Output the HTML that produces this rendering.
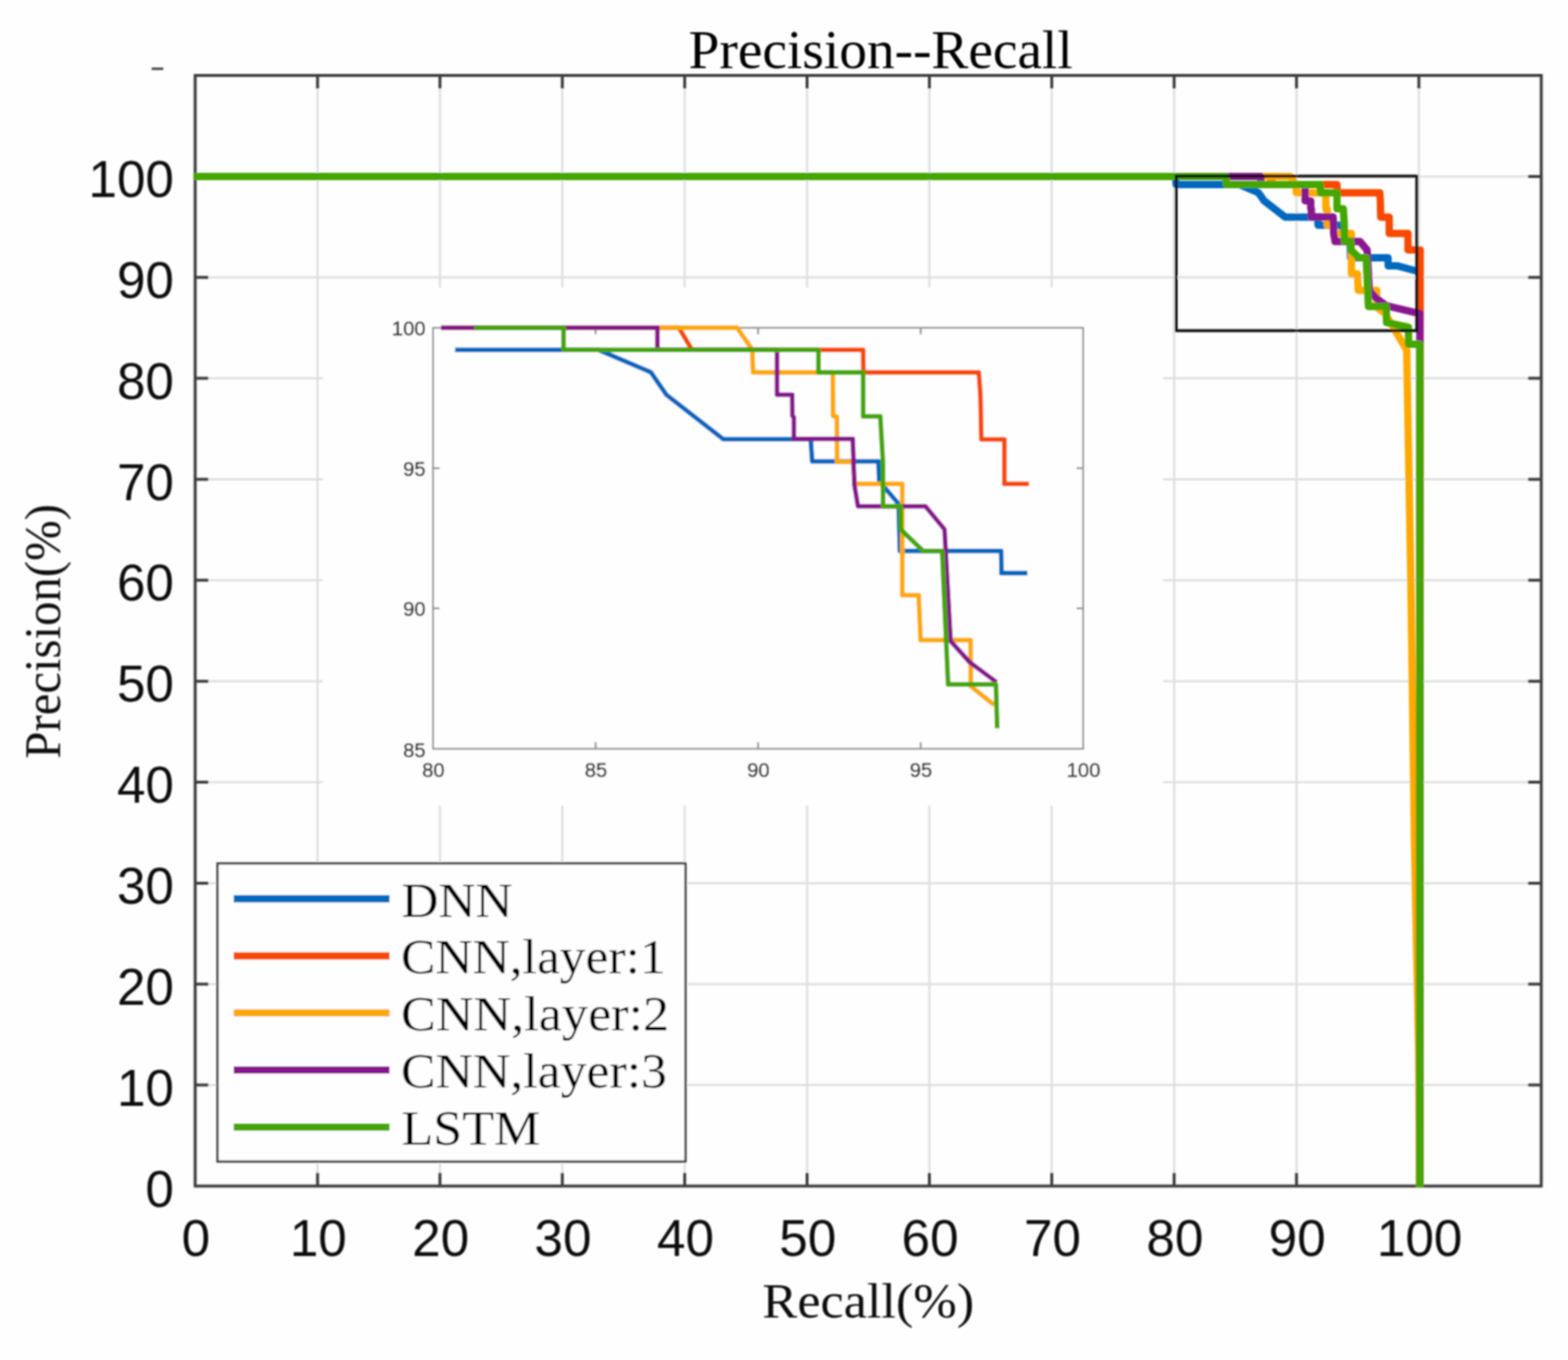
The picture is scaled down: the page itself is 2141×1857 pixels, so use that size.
<!DOCTYPE html><html><head><meta charset="utf-8"><title>Precision--Recall</title>
<style>html,body{margin:0;padding:0;background:#fff;overflow:hidden;}svg{display:block;}.sans{font-family:"Liberation Sans",Arial,Helvetica,sans-serif;}.serif{font-family:"Liberation Serif","Times New Roman",Times,serif;}</style></head><body>
<svg width="2141" height="1857" viewBox="0 0 2141 1857">
<defs><filter id="soft" x="0" y="0" width="2141" height="1857" filterUnits="userSpaceOnUse"><feGaussianBlur stdDeviation="0.9"/></filter></defs>
<rect x="0" y="0" width="2141" height="1857" fill="#fefefe"/>
<g filter="url(#soft)">
<g stroke="#dfdfdf" stroke-width="3"><line x1="433.6" y1="103.0" x2="433.6" y2="1619.5"/><line x1="266.5" y1="1481.6" x2="2104.5" y2="1481.6"/><line x1="600.7" y1="103.0" x2="600.7" y2="1619.5"/><line x1="266.5" y1="1343.8" x2="2104.5" y2="1343.8"/><line x1="767.8" y1="103.0" x2="767.8" y2="1619.5"/><line x1="266.5" y1="1205.9" x2="2104.5" y2="1205.9"/><line x1="934.9" y1="103.0" x2="934.9" y2="1619.5"/><line x1="266.5" y1="1068.0" x2="2104.5" y2="1068.0"/><line x1="1102.0" y1="103.0" x2="1102.0" y2="1619.5"/><line x1="266.5" y1="930.2" x2="2104.5" y2="930.2"/><line x1="1269.0" y1="103.0" x2="1269.0" y2="1619.5"/><line x1="266.5" y1="792.3" x2="2104.5" y2="792.3"/><line x1="1436.1" y1="103.0" x2="1436.1" y2="1619.5"/><line x1="266.5" y1="654.5" x2="2104.5" y2="654.5"/><line x1="1603.2" y1="103.0" x2="1603.2" y2="1619.5"/><line x1="266.5" y1="516.6" x2="2104.5" y2="516.6"/><line x1="1770.3" y1="103.0" x2="1770.3" y2="1619.5"/><line x1="266.5" y1="378.7" x2="2104.5" y2="378.7"/><line x1="1937.4" y1="103.0" x2="1937.4" y2="1619.5"/><line x1="266.5" y1="240.9" x2="2104.5" y2="240.9"/></g>
<path d="M433.6 1619.5V1601.5M433.6 103.0V121.0M266.5 1481.6H284.5M2104.5 1481.6H2086.5M600.7 1619.5V1601.5M600.7 103.0V121.0M266.5 1343.8H284.5M2104.5 1343.8H2086.5M767.8 1619.5V1601.5M767.8 103.0V121.0M266.5 1205.9H284.5M2104.5 1205.9H2086.5M934.9 1619.5V1601.5M934.9 103.0V121.0M266.5 1068.0H284.5M2104.5 1068.0H2086.5M1102.0 1619.5V1601.5M1102.0 103.0V121.0M266.5 930.2H284.5M2104.5 930.2H2086.5M1269.0 1619.5V1601.5M1269.0 103.0V121.0M266.5 792.3H284.5M2104.5 792.3H2086.5M1436.1 1619.5V1601.5M1436.1 103.0V121.0M266.5 654.5H284.5M2104.5 654.5H2086.5M1603.2 1619.5V1601.5M1603.2 103.0V121.0M266.5 516.6H284.5M2104.5 516.6H2086.5M1770.3 1619.5V1601.5M1770.3 103.0V121.0M266.5 378.7H284.5M2104.5 378.7H2086.5M1937.4 1619.5V1601.5M1937.4 103.0V121.0M266.5 240.9H284.5M2104.5 240.9H2086.5" stroke="#3e3e3e" stroke-width="4" fill="none"/>
<rect x="441" y="393" width="1147" height="707" fill="#fefefe"/>
<rect x="266.5" y="103.0" width="1838.0" height="1516.5" fill="none" stroke="#3e3e3e" stroke-width="4"/>
<polyline points="264.5,241.0 1605.0,241.0 1606.0,252.0 1691.9,252.0 1718.3,263.1 1726.2,274.3 1754.9,296.5 1799.1,296.5 1799.8,307.5 1833.3,307.5 1833.7,317.3 1843.5,328.6 1844.1,352.0 1895.3,352.0 1895.5,363.1 1908.6,363.1 1932.0,369.5 1939.0,371.5 1939.0,1621.0" fill="none" stroke="#0068BF" stroke-width="10" stroke-linejoin="round" stroke-linecap="butt"/>
<polyline points="264.5,241.0 1732.5,241.0 1739.2,252.0 1825.6,252.0 1825.7,263.2 1884.0,263.2 1884.8,274.3 1885.3,296.5 1896.9,296.5 1896.9,318.7 1909.4,318.7 1922.5,318.7 1922.5,341.2 1939.2,341.2 1938.8,1621.0" fill="none" stroke="#F74800" stroke-width="10" stroke-linejoin="round" stroke-linecap="butt"/>
<polyline points="264.5,241.0 1761.9,241.0 1769.6,251.9 1770.0,263.2 1810.3,263.2 1810.4,284.9 1812.3,285.3 1812.4,307.6 1820.5,307.6 1821.3,318.7 1845.3,318.7 1845.3,374.1 1853.6,374.1 1854.6,396.4 1879.8,396.4 1880.0,419.4 1891.7,428.7 1906.0,453.0 1920.8,478.0 1926.6,805.0 1931.4,1150.0 1937.3,1443.0 1938.6,1621.0" fill="none" stroke="#FDA900" stroke-width="10" stroke-linejoin="round" stroke-linecap="butt"/>
<polyline points="264.5,241.0 1721.6,241.0 1721.6,252.0 1782.1,252.0 1782.1,274.3 1789.7,274.3 1789.8,284.9 1790.6,285.5 1790.6,296.3 1820.3,296.3 1821.1,319.2 1823.0,329.8 1857.0,329.8 1866.7,341.3 1869.8,396.9 1879.3,407.3 1893.0,417.4 1931.8,426.6 1938.7,428.0 1938.7,1621.0" fill="none" stroke="#88188F" stroke-width="10" stroke-linejoin="round" stroke-linecap="butt"/>
<polyline points="264.5,241.0 1674.2,241.0 1674.2,252.0 1803.0,252.0 1803.0,263.2 1825.6,263.2 1825.6,285.1 1834.2,285.1 1835.6,307.9 1835.6,329.8 1844.5,329.8 1844.5,341.3 1855.8,352.0 1865.5,352.0 1868.5,418.5 1892.7,418.5 1893.3,440.3 1923.2,446.8 1923.2,470.0 1938.7,470.0 1938.7,1621.0" fill="none" stroke="#45A600" stroke-width="10" stroke-linejoin="round" stroke-linecap="butt"/>
<rect x="1606" y="240.5" width="328.5" height="211" fill="none" stroke="#111" stroke-width="4"/>
<g class="sans" font-size="70" fill="#111"><text x="267.5" y="1715" text-anchor="middle">0</text><text x="237.5" y="1647.5" text-anchor="end">0</text><text x="434.6" y="1715" text-anchor="middle">10</text><text x="237.5" y="1509.6" text-anchor="end">10</text><text x="601.7" y="1715" text-anchor="middle">20</text><text x="237.5" y="1371.8" text-anchor="end">20</text><text x="768.8" y="1715" text-anchor="middle">30</text><text x="237.5" y="1233.9" text-anchor="end">30</text><text x="935.9" y="1715" text-anchor="middle">40</text><text x="237.5" y="1096.0" text-anchor="end">40</text><text x="1103.0" y="1715" text-anchor="middle">50</text><text x="237.5" y="958.2" text-anchor="end">50</text><text x="1270.0" y="1715" text-anchor="middle">60</text><text x="237.5" y="820.3" text-anchor="end">60</text><text x="1437.1" y="1715" text-anchor="middle">70</text><text x="237.5" y="682.5" text-anchor="end">70</text><text x="1604.2" y="1715" text-anchor="middle">80</text><text x="237.5" y="544.6" text-anchor="end">80</text><text x="1771.3" y="1715" text-anchor="middle">90</text><text x="237.5" y="406.7" text-anchor="end">90</text><text x="1938.4" y="1715" text-anchor="middle">100</text><text x="237.5" y="268.9" text-anchor="end">100</text></g>
<rect x="207" y="92.2" width="16" height="3.4" fill="#4a4a4a"/>
<text class="serif" x="940.3" y="92.9" font-size="75" fill="#000" textLength="524.5" lengthAdjust="spacingAndGlyphs">Precision--Recall</text>
<text class="serif" x="1041.1" y="1799.3" font-size="68" fill="#111" textLength="289.2" lengthAdjust="spacingAndGlyphs">Recall(%)</text>
<text class="serif" transform="translate(82,1035.9) rotate(-90)" x="0" y="0" font-size="69" fill="#111" textLength="347.7" lengthAdjust="spacingAndGlyphs">Precision(%)</text>
<rect x="297" y="1179" width="639" height="407" fill="#fefefe" stroke="#363636" stroke-width="3"/>
<line x1="319" y1="1227.3" x2="532" y2="1227.3" stroke="#0068BF" stroke-width="10"/>
<text class="serif" x="548.2" y="1251.6" font-size="68" fill="#000" textLength="151.7" lengthAdjust="spacingAndGlyphs">DNN</text>
<line x1="319" y1="1305.2" x2="532" y2="1305.2" stroke="#F74800" stroke-width="10"/>
<text class="serif" x="547.5" y="1329.4" font-size="68" fill="#000" textLength="361.4" lengthAdjust="spacingAndGlyphs">CNN,layer:1</text>
<line x1="319" y1="1383.1" x2="532" y2="1383.1" stroke="#FDA900" stroke-width="10"/>
<text class="serif" x="547.4" y="1407.2" font-size="68" fill="#000" textLength="366.4" lengthAdjust="spacingAndGlyphs">CNN,layer:2</text>
<line x1="319" y1="1461.0" x2="532" y2="1461.0" stroke="#88188F" stroke-width="10"/>
<text class="serif" x="547.5" y="1485.0" font-size="68" fill="#000" textLength="363.2" lengthAdjust="spacingAndGlyphs">CNN,layer:3</text>
<line x1="319" y1="1538.9" x2="532" y2="1538.9" stroke="#45A600" stroke-width="10"/>
<text class="serif" x="548.2" y="1562.8" font-size="68" fill="#000" textLength="189.6" lengthAdjust="spacingAndGlyphs">LSTM</text>
<path d="M813.2 1022.4V1013.4M813.2 447.6V456.6M1035.1 1022.4V1013.4M1035.1 447.6V456.6M1257.1 1022.4V1013.4M1257.1 447.6V456.6M591.2 830.8H600.2M1479.0 830.8H1470.0M591.2 639.2H600.2M1479.0 639.2H1470.0" stroke="#8a8a8a" stroke-width="2.5" fill="none"/>
<rect x="591.2" y="447.6" width="887.8" height="574.8" fill="none" stroke="#929292" stroke-width="2.5"/>
<g class="sans" font-size="27.5" fill="#3a3a3a" stroke="#3a3a3a" stroke-width="0.7"><text x="591.7" y="1061.3" text-anchor="middle">80</text><text x="813.7" y="1061.3" text-anchor="middle">85</text><text x="1035.6" y="1061.3" text-anchor="middle">90</text><text x="1257.6" y="1061.3" text-anchor="middle">95</text><text x="1479.5" y="1061.3" text-anchor="middle">100</text><text x="581" y="1034.2" text-anchor="end">85</text><text x="581" y="841.1" text-anchor="end">90</text><text x="581" y="649.5" text-anchor="end">95</text><text x="581" y="457.9" text-anchor="end">100</text></g>
<polyline points="621.4,477.8 817.3,477.8 888.6,508.2 909.9,539.0 987.7,599.8 1107.0,599.8 1109.0,630.0 1199.5,630.0 1200.5,657.0 1227.0,688.0 1228.7,752.2 1367.0,752.2 1367.5,782.6 1403.0,782.6" fill="none" stroke="#0068BF" stroke-width="6.5" stroke-linejoin="round" stroke-linecap="butt"/>
<polyline points="604.0,447.5 927.0,447.5 945.0,477.8 1178.6,477.8 1179.0,508.4 1336.5,508.4 1338.7,538.9 1340.0,599.9 1371.4,599.9 1371.4,660.7 1405.1,660.7" fill="none" stroke="#F74800" stroke-width="6.5" stroke-linejoin="round" stroke-linecap="butt"/>
<polyline points="604.0,447.5 1006.5,447.5 1027.2,477.5 1028.3,508.4 1137.2,508.4 1137.5,568.0 1142.7,569.0 1143.0,630.4 1165.0,630.4 1167.0,660.8 1232.0,660.8 1232.0,812.8 1254.4,812.8 1257.0,873.9 1325.2,873.9 1325.6,937.0 1357.4,962.5" fill="none" stroke="#FDA900" stroke-width="6.5" stroke-linejoin="round" stroke-linecap="butt"/>
<polyline points="602.0,447.5 897.7,447.5 897.7,477.8 1061.0,477.8 1061.0,538.9 1081.7,538.9 1082.0,568.0 1084.0,569.5 1084.0,599.2 1164.4,599.2 1166.6,662.0 1171.5,691.3 1263.6,691.3 1289.7,722.8 1298.0,875.4 1323.9,904.0 1360.7,931.5" fill="none" stroke="#88188F" stroke-width="6.5" stroke-linejoin="round" stroke-linecap="butt"/>
<polyline points="647.5,447.5 769.5,447.5 769.5,477.8 1117.6,477.8 1117.6,508.4 1178.6,508.4 1178.6,568.5 1202.0,568.5 1205.6,631.0 1205.8,691.3 1229.8,691.3 1229.8,722.8 1260.3,752.2 1286.4,752.2 1294.6,934.5 1359.9,934.5 1361.6,994.5" fill="none" stroke="#45A600" stroke-width="6.5" stroke-linejoin="round" stroke-linecap="butt"/>
</g>
</svg></body></html>
